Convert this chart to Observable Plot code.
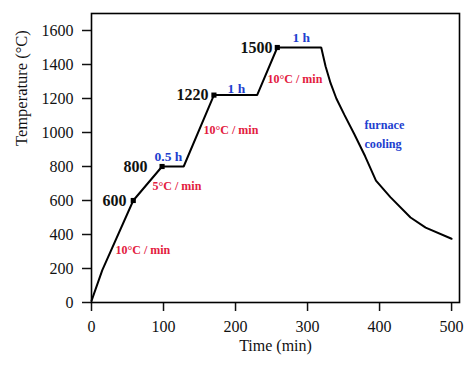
<!DOCTYPE html>
<html>
<head>
<meta charset="utf-8">
<script src="https://cdn.jsdelivr.net/npm/d3@7"></script>
<script src="https://cdn.jsdelivr.net/npm/@observablehq/plot@0.6"></script>
<style>
  html, body { margin: 0; padding: 0; background: #fff; }
  svg { display: block; }
</style>
</head>
<body>
<div id="chart"></div>
<script>
// Heat-treatment profile: time (min) vs temperature (°C)
const timeMin = [0, 15, 58, 98, 128, 170, 230, 258, 319, 325, 332, 340, 351, 365, 380, 395, 415, 443, 464, 500];
const tempC   = [10, 190, 600, 800, 800, 1220, 1220, 1500, 1500, 1390, 1290, 1200, 1105, 990, 860, 717, 620, 500, 440, 375];

// Marked set points
const markTime = [58, 98, 170, 258];
const markTemp = [600, 800, 1220, 1500];
const markText = ["600", "800", "1220", "1500"];
const markLabelTime = [48.6, 77.8, 162.5, 251.4];

// Heating-rate annotations (red)
const rateText = ["10°C / min", "5°C / min", "10°C / min", "10°C / min"];
const rateTime = [33.3, 84.7, 155.6, 244.4];
const rateTemp = [305, 687, 1016, 1316];

// Hold-time annotations (blue)
const holdText = ["0.5 h", "1 h", "1 h"];
const holdTime = [87.5, 188.9, 279];
const holdTemp = [858, 1257, 1557];

// Cooling annotation (blue)
const coolText = ["furnace", "cooling"];
const coolTime = [379, 379];
const coolTemp = [1046, 934];

const xTicks = [0, 100, 200, 300, 400, 500];
const yTicks = [0, 200, 400, 600, 800, 1000, 1200, 1400, 1600];

const xLabel = "Time (min)";
const yLabel = "Temperature (°C)";

const profile = timeMin.map((t, i) => ({t, T: tempC[i]}));
const marks = markTime.map((t, i) => ({t, T: markTemp[i], lt: markLabelTime[i], s: markText[i]}));
const rates = rateText.map((s, i) => ({s, t: rateTime[i], T: rateTemp[i]}));
const holds = holdText.map((s, i) => ({s, t: holdTime[i], T: holdTemp[i]}));
const cools = coolText.map((s, i) => ({s, t: coolTime[i], T: coolTemp[i]}));

const red = "#e3203f";
const blue = "#2240cf";
const serif = "'Liberation Serif', 'Times New Roman', serif";

const chart = Plot.plot({
  width: 474,
  height: 366,
  marginLeft: 91,
  marginRight: 15,
  marginTop: 13,
  marginBottom: 64,
  style: {fontFamily: serif, background: "#fff", color: "#111"},
  x: {domain: [0, 511]},
  y: {domain: [0, 1700]},
  marks: [
    Plot.axisX(xTicks, {tickSize: 9, tickPadding: 9, fontSize: 16, strokeWidth: 1.5, tickFormat: d => String(d), label: null}),
    Plot.axisY(yTicks, {tickSize: 9, tickPadding: 9, fontSize: 16, strokeWidth: 1.5, tickFormat: d => String(d), label: null}),
    Plot.frame({stroke: "#000", strokeWidth: 1.6}),
    Plot.line(profile, {x: "t", y: "T", stroke: "#000", strokeWidth: 2, strokeLinejoin: "miter"}),
    Plot.dot(marks, {x: "t", y: "T", symbol: "square", r: 2.9, fill: "#000", stroke: "none"}),
    Plot.text(marks, {x: "lt", y: "T", text: "s", textAnchor: "end", fontSize: 16, fontWeight: "bold", fill: "#111"}),
    Plot.text(rates, {x: "t", y: "T", text: "s", textAnchor: "start", fontSize: 12, fontWeight: "bold", fill: red}),
    Plot.text(holds, {x: "t", y: "T", text: "s", textAnchor: "start", fontSize: 13.5, fontWeight: "bold", fill: blue}),
    Plot.text(cools, {x: "t", y: "T", text: "s", textAnchor: "start", fontSize: 12.2, fontWeight: "bold", fill: blue}),
    Plot.text([xLabel], {frameAnchor: "bottom", dy: 48, text: d => d, fontSize: 16, fill: "#111"}),
    Plot.text([yLabel], {frameAnchor: "left", dx: -70, dy: -12, rotate: -90, text: d => d, fontSize: 16.5, fill: "#111"})
  ]
});
document.getElementById("chart").append(chart);
</script>
</body>
</html>
